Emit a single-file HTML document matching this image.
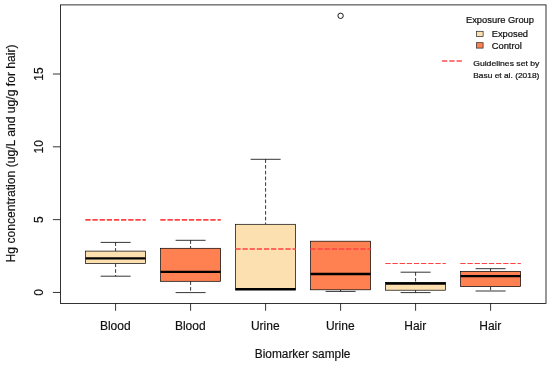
<!DOCTYPE html>
<html><head><meta charset="utf-8"><title>Boxplot</title>
<style>html,body{margin:0;padding:0;background:#fff}svg{display:block}</style>
</head><body>
<svg width="550" height="365" viewBox="0 0 550 365" font-family="'Liberation Sans', Arial, sans-serif" font-size="12" fill="#111" stroke="#111" stroke-width="0.18">
<rect width="550" height="365" fill="#fff" stroke="none"/>
<line x1="115.6" y1="242.4" x2="115.6" y2="251.1" stroke="#000" stroke-width="0.8" stroke-dasharray="3.6 2.15"/>
<line x1="100.6" y1="242.4" x2="130.6" y2="242.4" stroke="#000" stroke-width="0.8"/>
<line x1="115.6" y1="263.5" x2="115.6" y2="276.2" stroke="#000" stroke-width="0.8" stroke-dasharray="3.6 2.15"/>
<line x1="100.6" y1="276.2" x2="130.6" y2="276.2" stroke="#000" stroke-width="0.8"/>
<rect x="85.6" y="251.1" width="60" height="12.4" fill="#FDE0B0" stroke="#000" stroke-width="0.7"/>
<line x1="85.6" y1="258.4" x2="145.6" y2="258.4" stroke="#000" stroke-width="2.3"/>
<line x1="85.3" y1="219.8" x2="145.8" y2="219.8" stroke="#FF4242" stroke-width="1.8" stroke-dasharray="5.3 1.85"/>
<line x1="190.6" y1="240.3" x2="190.6" y2="248.3" stroke="#000" stroke-width="0.8" stroke-dasharray="3.6 2.15"/>
<line x1="175.6" y1="240.3" x2="205.6" y2="240.3" stroke="#000" stroke-width="0.8"/>
<line x1="190.6" y1="281.3" x2="190.6" y2="292.6" stroke="#000" stroke-width="0.8" stroke-dasharray="3.6 2.15"/>
<line x1="175.6" y1="292.6" x2="205.6" y2="292.6" stroke="#000" stroke-width="0.8"/>
<rect x="160.6" y="248.3" width="60" height="33.0" fill="#FF8050" stroke="#000" stroke-width="0.7"/>
<line x1="160.6" y1="271.8" x2="220.6" y2="271.8" stroke="#000" stroke-width="2.3"/>
<line x1="160.3" y1="219.8" x2="220.8" y2="219.8" stroke="#FF4242" stroke-width="1.8" stroke-dasharray="5.3 1.85"/>
<line x1="265.6" y1="159.3" x2="265.6" y2="224.3" stroke="#000" stroke-width="0.8" stroke-dasharray="3.6 2.15"/>
<line x1="250.6" y1="159.3" x2="280.6" y2="159.3" stroke="#000" stroke-width="0.8"/>
<rect x="235.6" y="224.3" width="60" height="65.7" fill="#FDE0B0" stroke="#000" stroke-width="0.7"/>
<line x1="235.6" y1="289.2" x2="295.6" y2="289.2" stroke="#000" stroke-width="2.3"/>
<line x1="235.3" y1="249.0" x2="295.8" y2="249.0" stroke="#FF4242" stroke-width="1.5" stroke-dasharray="5.3 1.85"/>
<line x1="340.6" y1="289.8" x2="340.6" y2="291.4" stroke="#000" stroke-width="0.8" stroke-dasharray="3.6 2.15"/>
<line x1="325.6" y1="291.4" x2="355.6" y2="291.4" stroke="#000" stroke-width="0.8"/>
<rect x="310.6" y="241.2" width="60" height="48.6" fill="#FF8050" stroke="#000" stroke-width="0.7"/>
<line x1="310.6" y1="274.0" x2="370.6" y2="274.0" stroke="#000" stroke-width="2.3"/>
<line x1="310.3" y1="249.0" x2="370.8" y2="249.0" stroke="#FF4242" stroke-width="1.5" stroke-dasharray="5.3 1.85"/>
<line x1="415.6" y1="272.2" x2="415.6" y2="282.4" stroke="#000" stroke-width="0.8" stroke-dasharray="3.6 2.15"/>
<line x1="400.6" y1="272.2" x2="430.6" y2="272.2" stroke="#000" stroke-width="0.8"/>
<line x1="415.6" y1="290.2" x2="415.6" y2="292.6" stroke="#000" stroke-width="0.8" stroke-dasharray="3.6 2.15"/>
<line x1="400.6" y1="292.6" x2="430.6" y2="292.6" stroke="#000" stroke-width="0.8"/>
<rect x="385.6" y="282.4" width="60" height="7.8" fill="#FDE0B0" stroke="#000" stroke-width="0.7"/>
<line x1="385.6" y1="283.5" x2="445.6" y2="283.5" stroke="#000" stroke-width="2.3"/>
<line x1="385.3" y1="263.5" x2="445.8" y2="263.5" stroke="#FF4242" stroke-width="1.05" stroke-dasharray="5.3 1.85"/>
<line x1="490.6" y1="268.7" x2="490.6" y2="271.4" stroke="#000" stroke-width="0.8" stroke-dasharray="3.6 2.15"/>
<line x1="475.6" y1="268.7" x2="505.6" y2="268.7" stroke="#000" stroke-width="0.8"/>
<line x1="490.6" y1="286.6" x2="490.6" y2="291.0" stroke="#000" stroke-width="0.8" stroke-dasharray="3.6 2.15"/>
<line x1="475.6" y1="291.0" x2="505.6" y2="291.0" stroke="#000" stroke-width="0.8"/>
<rect x="460.6" y="271.4" width="60" height="15.2" fill="#FF8050" stroke="#000" stroke-width="0.7"/>
<line x1="460.6" y1="276.2" x2="520.6" y2="276.2" stroke="#000" stroke-width="2.3"/>
<line x1="460.3" y1="263.5" x2="520.8" y2="263.5" stroke="#FF4242" stroke-width="1.05" stroke-dasharray="5.3 1.85"/>
<circle cx="340.6" cy="15.8" r="2.7" fill="none" stroke="#000" stroke-width="0.9"/>
<rect x="60.5" y="4.9" width="485.5" height="298.5" fill="none" stroke="#000" stroke-width="0.8"/>
<line x1="52.9" y1="292.45" x2="60.5" y2="292.45" stroke="#000" stroke-width="0.8"/>
<text transform="translate(43,292.45) rotate(-90)" text-anchor="middle">0</text>
<line x1="52.9" y1="219.63" x2="60.5" y2="219.63" stroke="#000" stroke-width="0.8"/>
<text transform="translate(43,219.63) rotate(-90)" text-anchor="middle">5</text>
<line x1="52.9" y1="146.82" x2="60.5" y2="146.82" stroke="#000" stroke-width="0.8"/>
<text transform="translate(43,146.82) rotate(-90)" text-anchor="middle">10</text>
<line x1="52.9" y1="74.0" x2="60.5" y2="74.0" stroke="#000" stroke-width="0.8"/>
<text transform="translate(43,74.0) rotate(-90)" text-anchor="middle">15</text>
<line x1="115.6" y1="303.4" x2="115.6" y2="310.8" stroke="#000" stroke-width="0.8"/>
<text x="115.3" y="330.0" text-anchor="middle">Blood</text>
<line x1="190.6" y1="303.4" x2="190.6" y2="310.8" stroke="#000" stroke-width="0.8"/>
<text x="190.3" y="330.0" text-anchor="middle">Blood</text>
<line x1="265.6" y1="303.4" x2="265.6" y2="310.8" stroke="#000" stroke-width="0.8"/>
<text x="265.3" y="330.0" text-anchor="middle">Urine</text>
<line x1="340.6" y1="303.4" x2="340.6" y2="310.8" stroke="#000" stroke-width="0.8"/>
<text x="340.3" y="330.0" text-anchor="middle">Urine</text>
<line x1="415.6" y1="303.4" x2="415.6" y2="310.8" stroke="#000" stroke-width="0.8"/>
<text x="415.3" y="330.0" text-anchor="middle">Hair</text>
<line x1="490.6" y1="303.4" x2="490.6" y2="310.8" stroke="#000" stroke-width="0.8"/>
<text x="490.3" y="330.0" text-anchor="middle">Hair</text>
<text x="302.6" y="357.9" text-anchor="middle" textLength="95.7" lengthAdjust="spacingAndGlyphs">Biomarker sample</text>
<text transform="translate(14.6,153.4) rotate(-90)" text-anchor="middle" textLength="218" lengthAdjust="spacingAndGlyphs">Hg concentration (ug/L and ug/g for hair)</text>
<g font-size="9.35" stroke-width="0.22">
<text x="500" y="22.6" text-anchor="middle">Exposure Group</text>
<rect x="476.6" y="31.3" width="6.5" height="5.2" fill="#FDE0B0" stroke="#222" stroke-width="0.7"/>
<rect x="476.6" y="42.7" width="6.5" height="5.4" fill="#FF8050" stroke="#222" stroke-width="0.7"/>
<text x="491.7" y="37.1">Exposed</text>
<text x="491.7" y="48.5">Control</text>
</g>
<line x1="441.9" y1="61.1" x2="461.9" y2="61.1" stroke="#FF5050" stroke-width="1.5" stroke-dasharray="5.4 1.9"/>
<g font-size="7.9" fill="#111" stroke="#111" stroke-width="0.2">
<text x="473.2" y="66.0" textLength="66.2" lengthAdjust="spacingAndGlyphs">Guidelines set by</text>
<text x="473.2" y="77.6" textLength="66.2" lengthAdjust="spacingAndGlyphs">Basu et al. (2018)</text>
</g>
</svg>
</body></html>
